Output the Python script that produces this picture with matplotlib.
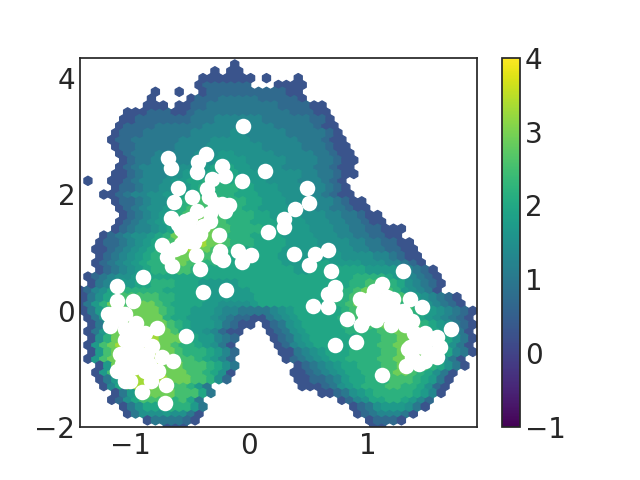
import numpy as np
import matplotlib
matplotlib.use("Agg")
import matplotlib.pyplot as plt

# log density, one string per hexagon row (top row first)
# . = empty, the other signs are looked up in levels
levels = {"1": 0.3, "2": 0.7, "3": 1.0, "4": 1.3, "5": 1.5, "6": 1.7,
          "7": 1.95, "8": 2.2, "9": 2.5, "a": 2.9, "b": 3.3}
density_rows = [
    ".......... .........1 .......... .......... ..........",
    ".......... .......1.1 1......... .......... ..........",
    ".......... .....11111 11.1...1.. .......... ..........",
    ".......... .....12222 22...1111. .......... ..........",
    ".........1 ..1..12222 22222211.. .......... ..........",
    ".........1 ....122233 333222221. .......... ..........",
    "........11 1.11223333 3333322221 1......... ..........",
    "......1112 2211233333 3333333222 11........ ..........",
    ".....11222 2222333444 4443333332 21........ ..........",
    ".....12222 3333334444 4444433333 211....... ..........",
    "....122233 3333444445 5444443333 321....... ..........",
    "....122333 3334444555 5544444433 3211...... ..........",
    "....122333 3344445555 5554444433 3211...... ..........",
    ".....12333 4444455566 5555544444 33211..... ..........",
    ".....12334 4444555666 6555554444 33211..... ..........",
    ".....12344 4555566777 6655554444 33211..... ..........",
    "....112344 4556667777 6665555544 33211..... ..........",
    ".1..112344 4566778887 7666555544 4321...... ..........",
    "....122344 5566788888 7766655554 4321...... ..........",
    "...1123445 5667889888 7776665554 43211..... ..........",
    "....122345 5678899988 8776665555 443211.... ..........",
    ".....12345 5678999988 8776666555 4433211... ..........",
    ".....12345 6789aa9988 8877666655 54433211.. ..........",
    ".....12345 678aaaa998 8877776665 554433211. ..........",
    "....123445 679aaaa998 8887776665 5544332211 1.........",
    "...1234556 78aabbaa98 8877776666 5554433221 1.........",
    "..12234567 89aabbaa98 8877776666 5555443322 11........",
    "..11234567 89aabaa998 8777776666 6555544332 211.......",
    "..12345678 89aaa99887 7777766666 6665555443 211.......",
    "..12345678 899a998877 7777776666 7766665554 4321......",
    "..12345678 8899887777 7777777667 7777776666 54321.....",
    ".123455667 7777777777 7777777777 7777788887 654321....",
    ".134566778 8877766666 7777777777 7777889998 754321....",
    "1245788888 8777777666 6677777777 777889aaa9 865431....",
    "1357899999 8877776666 6677777777 77889aaaa9 98654321..",
    "1368aa9aaa 9877776655 5567777777 77889aaaaa 987654321.",
    "1368aaaaaa 9877666544 3333456777 77789aaaaa a987654321",
    ".136aaaaaa a877666543 2211345677 7778899aaa a987654321",
    ".136aaaaaa a987666532 11.1235677 77788899aa aa98765321",
    ".136aaaaaa aa97665421 1...123567 7777888899 aaa9876531",
    ".158abbbbb aaa9766432 ....123567 7777788899 aaa9987531",
    ".169abbbbb aa98876531 .....12456 7777788899 aaaa987531",
    ".169abbbbb aa98887642 .....11345 6777888899 aaaa987431",
    ".169abbbbb aaa9987642 ......1234 5677888899 aaaa98531.",
    "..16abbbbb aaa9998753 .......123 4567788899 aaa987531.",
    "..169abbbb aaaa998751 .......112 3456778899 aa987531..",
    "..1369abbb baaa99852. .......112 2346778889 9987631...",
    "...147abbb aa99863... ........11 1235678889 9887521...",
    "....136aaa aa99973... .......... 1123567888 887641....",
    "....125799 998973.... .......... ...1245778 87642.....",
    ".....13577 788863.... .......... ....123566 6531......",
    "......1355 565531.... .......... .....12344 431.......",
    "........13 33321..... .......... ......1222 1.........",
    ".......... .111...... .......... .......11. ..........",
]

# white points
point_x = [-0.05, -0.68, -0.66, -0.36, -0.43, -0.44, -0.23, -0.20, -0.31, 0.14,
           -0.06, -0.60, -0.35, -0.34, -0.48, -0.63, -0.17, -0.23, -0.20, -0.33,
           -0.44, -0.66, -0.60, -0.50, -0.39, -0.47, -0.25, 0.16, -0.73, -0.50,
           0.49, 0.51, 0.39, 0.30, 0.30, -0.69, -0.65, -0.57, -0.62, -0.46,
           -0.45, -0.41, -0.24, -0.26, -0.22, -0.09, 0.02, -0.06, -0.89, -0.39,
           -0.19, -1.11, -0.98, -1.11, -1.19, -1.05, -1.17, -1.11, -0.95, -1.05,
           -0.78, -0.53, -1.05, -0.91, -0.82, -0.95, -0.86, -1.02, -0.94, -0.73,
           -0.64, -1.07, -0.96, -1.11, -1.05, -0.77, -0.83, -0.90, -0.70, -0.71,
           0.38, 0.56, 0.67, 0.51, 0.69, 1.30, 0.73, 0.67, 0.73, 0.54,
           0.67, 1.12, 1.06, 0.94, 1.17, 1.36, 1.46, 0.96, 1.08, 1.22,
           1.30, 0.83, 0.95, 1.07, 1.20, 1.32, 1.38, 1.71, 0.73, 0.90,
           1.42, 1.53, 1.36, 1.61, 1.47, 1.54, 1.38, 1.49, 1.33, 1.12,
           1.15, 1.23, 1.02, 1.40, 1.44, 1.59, 1.49, 1.59, 1.39, 1.34,
           1.32, 1.22, 1.02, 1.15, 0.98, -1.00, -0.99, -0.88, -1.09, -0.84,
           -1.09, -0.96, -1.02, -0.88, -1.00, -0.57, -0.33, -0.54, -0.29, -0.41,
           -0.58, -0.54]
point_y = [3.17, 2.62, 2.45, 2.69, 2.55, 2.38, 2.48, 2.31, 2.26, 2.40,
           2.23, 2.11, 2.09, 1.95, 1.95, 1.87, 1.82, 1.83, 1.71, 1.68,
           1.71, 1.59, 1.49, 1.58, 1.46, 1.37, 1.30, 1.35, 1.13, 1.20,
           2.11, 1.85, 1.75, 1.58, 1.44, 0.92, 0.77, 1.15, 1.06, 1.18,
           0.96, 0.72, 1.03, 0.92, 0.87, 1.03, 0.96, 0.84, 0.58, 0.33,
           0.36, 0.43, 0.17, 0.17, -0.05, -0.05, -0.26, 0.0, -0.21, -0.31,
           -0.29, -0.43, -0.51, -0.50, -0.60, -0.65, -0.74, -0.77, -0.87, -0.80,
           -0.87, -0.91, -0.96, -1.04, -1.20, -1.04, -1.20, -1.39, -1.27, -1.58,
           0.98, 0.98, 1.04, 0.79, 0.68, 0.68, 0.41, 0.29, 0.29, 0.09,
           0.07, 0.46, 0.34, 0.21, 0.24, 0.21, 0.07, 0.0, 0.09, 0.07,
           0.0, -0.14, -0.24, -0.15, -0.24, -0.24, -0.17, -0.31, -0.58, -0.53,
           -0.51, -0.48, -0.62, -0.62, -0.62, -0.74, -0.79, -0.86, -0.94, -1.11,
           -0.05, -0.10, -0.05, -0.57, -0.91, -0.79, -0.39, -0.45, -0.39, -0.65,
           -0.05, 0.21, 0.21, 0.21, -0.14, -0.65, -0.39, -0.39, -0.74, -0.91,
           -0.14, -0.48, -0.99, -1.04, -1.20, 1.40, 1.54, 1.54, 1.83, 1.32,
           1.10, 1.27]

xlim = (-1.426, 1.924)
ylim = (-2.0, 4.35)
nx, ny = 50, 27
sx = (xlim[1] - xlim[0]) / nx
sy = (ylim[1] - ylim[0]) / ny

# hexbin needs one sample per hexagon, so walk over its two offset lattices
hex_x, hex_y, hex_c = [], [], []
for k, row in enumerate(density_rows[::-1]):
    row = row.replace(" ", "")
    for i, sign in enumerate(row):
        if sign == ".":
            continue
        hex_x.append(xlim[0] + i * sx + (k % 2) * sx / 2)
        hex_y.append(ylim[0] + k * sy / 2)
        hex_c.append(levels[sign])

plt.rcParams["font.size"] = 20
plt.rcParams["text.color"] = "#262626"
plt.rcParams["xtick.labelcolor"] = "#262626"
plt.rcParams["ytick.labelcolor"] = "#262626"
plt.rcParams["axes.edgecolor"] = "#262626"
plt.rcParams["axes.linewidth"] = 1.25

fig, ax = plt.subplots(figsize=(6.4, 4.8), dpi=100)
hb = ax.hexbin(hex_x, hex_y, C=hex_c, gridsize=(nx, ny),
               extent=(xlim[0], xlim[1], ylim[0], ylim[1]),
               cmap="viridis", vmin=-1, vmax=4)
ax.scatter(point_x, point_y, s=125, color="white", linewidths=0, zorder=3)

ax.set_xlim(xlim)
ax.set_ylim(ylim)
ax.set_xticks([-1, 0, 1])
ax.set_yticks([-2, 0, 2, 4])
ax.tick_params(length=0, labelsize=20)

cbar = fig.colorbar(hb, ax=ax)
cbar.set_ticks([-1, 0, 1, 2, 3, 4])
cbar.ax.tick_params(length=0, labelsize=20)

fig.savefig("out.png", dpi=100)
